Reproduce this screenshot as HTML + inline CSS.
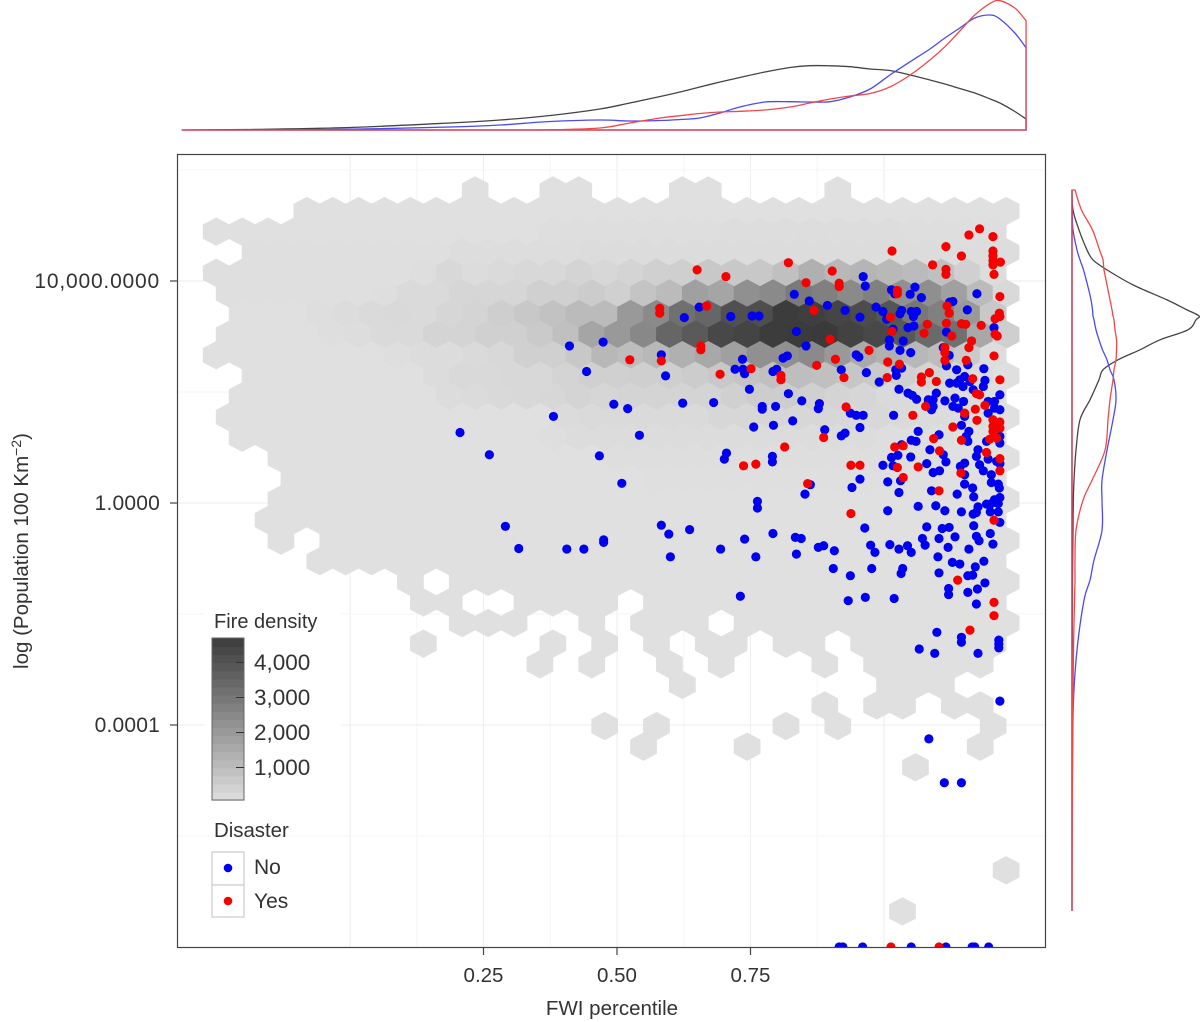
<!DOCTYPE html>
<html lang="en">
<head>
<meta charset="utf-8">
<title>FWI percentile vs population density</title>
<style>
html,body{margin:0;padding:0;background:#fff;}
svg{display:block;}
text{font-family:"Liberation Sans",sans-serif;fill:#333;}
</style>
</head>
<body>
<svg id="chart" xmlns="http://www.w3.org/2000/svg" width="1200" height="1022" viewBox="0 0 1200 1022">
  <defs><clipPath id="panel-clip"><rect x="178" y="154" width="868" height="793"/></clipPath></defs>
  <rect x="178" y="154" width="868" height="793" fill="#ffffff"/>
  <g id="grid"></g>
  <g id="hexes"></g>
  <rect x="204" y="604" width="137" height="216" fill="#ffffff"/>
  <g id="points" clip-path="url(#panel-clip)"></g>
  <rect x="177.5" y="154.5" width="868" height="793" fill="none" stroke="#444" stroke-width="1.2"/>
  <g id="axes"></g>
  <text x="612" y="1015" font-size="20.5" text-anchor="middle">FWI percentile</text>
  <text transform="translate(28,551) rotate(-90)" font-size="20.5" text-anchor="middle">log (Population 100 Km<tspan font-size="14" dy="-7">−2</tspan><tspan dy="7">)</tspan></text>
  <g id="margin-top"></g>
  <g id="margin-right"></g>
  <g id="legend">
    <text x="214" y="628" font-size="20">Fire density</text>
    <g id="colorbar"></g>
    <text x="214" y="837" font-size="20.4">Disaster</text>
    <rect x="212" y="852" width="32" height="33" fill="#fff" stroke="#ccc" stroke-width="1.2"/>
    <rect x="212" y="885" width="32" height="32" fill="#fff" stroke="#ccc" stroke-width="1.2"/>
    <circle cx="228" cy="868" r="4.3" fill="#0000f0"/>
    <circle cx="228" cy="901" r="4.3" fill="#f60000"/>
    <text x="254" y="874" font-size="21">No</text>
    <text x="254" y="908" font-size="21">Yes</text>
  </g>
</svg>
<script>
// ---- Axis data ----
const xTickValues = [0.25, 0.50, 0.75];
const xTickLabels = ["0.25", "0.50", "0.75"];
const xMajorGrid = [0, 0.25, 0.5, 0.75, 1];
const xMinorGrid = [0.125, 0.375, 0.625, 0.875];
const yTickValues = [4, 0, -4];
const yTickLabels = ["10,000.0000", "1.0000", "0.0001"];
const yMajorGrid = [4, 0, -4];
const yMinorGrid = [6, 2, -2, -6];
const colorbarTicks = [4000, 3000, 2000, 1000];
const colorbarTickLabels = ["4,000", "3,000", "2,000", "1,000"];

// ---- Hexbin fire counts: one row per hex row (top to bottom), one value per column; 0 = empty ----
const hexCounts = [
[0,0,0,0,0,0,0,0,0,0,1,0,0,1,1,0,0,0,1,1,0,0,0,0,1,0,0,0,0,0,0],
[0,0,0,1,1,1,1,1,1,1,1,1,1,1,1,1,1,1,1,1,1,1,1,1,1,1,1,1,1,1,1],
[1,1,1,1,1,1,1,1,1,1,1,1,1,57,57,57,57,57,57,57,85,85,85,85,85,85,85,57,57,57,57],
[0,30,30,30,30,30,30,30,30,85,85,85,85,85,114,114,114,114,114,114,114,114,114,114,114,114,114,114,85,85,85],
[30,30,30,30,30,30,30,30,57,230,114,170,230,230,342,257,342,456,485,684,684,684,912,1368,1140,1225,1140,1055,912,456,85],
[30,30,30,30,30,30,57,170,170,285,285,285,456,456,570,456,800,1055,1824,1680,2280,2450,2907,2736,2450,2736,2280,2300,1824,1055,200],
[0,1,1,1,57,114,170,200,170,285,342,513,684,860,1055,1055,2023,2450,3192,3477,4104,4160,4674,4590,4418,4218,3960,2990,2736,2023,684],
[1,1,1,1,57,85,170,170,342,342,456,456,627,912,1680,2023,2508,3477,3819,4332,4446,4674,4700,4730,4503,4332,3876,3363,3192,1596,485],
[1,1,1,1,1,1,1,57,114,114,170,230,456,456,684,1140,1000,1140,1368,1596,1824,2280,2280,2450,2023,1540,1368,1140,1000,627,85],
[0,1,1,1,1,1,1,1,114,200,200,230,230,342,456,456,485,485,570,684,800,912,970,912,740,627,456,342,285,142,30],
[0,1,1,1,1,1,1,1,1,114,142,200,230,257,342,285,342,342,342,342,456,540,540,456,342,285,170,170,170,114,30],
[1,1,1,1,1,1,1,1,1,1,1,1,1,142,170,170,170,170,170,257,257,285,257,257,230,230,170,142,114,85,1],
[0,1,1,1,1,1,1,1,1,1,1,1,1,57,114,114,114,114,114,114,114,114,114,114,114,114,57,57,57,1,1],
[0,0,1,1,1,1,1,1,1,1,1,1,1,1,1,57,57,57,57,57,57,57,57,57,57,57,57,57,1,1,1],
[0,0,0,1,1,1,1,1,1,1,1,1,1,1,1,1,1,30,30,30,30,30,30,30,30,30,30,1,1,1,1],
[0,0,1,1,1,1,1,1,1,1,1,1,1,1,1,1,1,1,1,1,1,1,1,1,1,1,1,1,1,1,1],
[0,0,1,1,1,1,1,1,1,1,1,1,1,1,1,1,1,1,1,1,1,1,1,1,1,1,1,1,1,1,1],
[0,0,1,0,1,1,1,1,1,1,1,1,1,1,1,1,1,1,1,1,1,1,1,1,1,1,1,1,1,1,1],
[0,0,0,0,1,1,1,1,1,1,1,1,1,1,1,1,1,1,1,1,1,1,1,1,1,1,1,1,1,1,1],
[0,0,0,0,0,0,0,1,0,1,1,1,1,1,1,1,1,1,1,1,1,1,1,1,1,1,1,1,1,1,1],
[0,0,0,0,0,0,0,0,1,1,0,0,1,1,1,1,0,1,1,1,1,1,1,1,1,1,1,1,1,1,1],
[0,0,0,0,0,0,0,0,0,1,1,1,0,0,1,0,1,1,1,0,1,1,1,1,1,1,1,1,1,1,1],
[0,0,0,0,0,0,0,0,1,0,0,0,0,1,0,1,0,1,0,1,1,0,1,1,0,1,1,1,1,1,1],
[0,0,0,0,0,0,0,0,0,0,0,0,1,0,1,0,0,1,0,1,0,0,0,1,0,1,1,1,1,1,0],
[0,0,0,0,0,0,0,0,0,0,0,0,0,0,0,0,0,0,1,0,0,0,0,0,0,0,1,1,1,0,0],
[0,0,0,0,0,0,0,0,0,0,0,0,0,0,0,0,0,0,0,0,0,0,0,1,0,1,1,0,1,1,0],
[0,0,0,0,0,0,0,0,0,0,0,0,0,0,0,1,0,1,0,0,0,0,1,0,1,0,0,0,0,0,1],
[0,0,0,0,0,0,0,0,0,0,0,0,0,0,0,0,1,0,0,0,1,0,0,0,0,0,0,0,0,1,0],
[0,0,0,0,0,0,0,0,0,0,0,0,0,0,0,0,0,0,0,0,0,0,0,0,0,0,0,1,0,0,0],
[],
[],
[],
[],
[0,0,0,0,0,0,0,0,0,0,0,0,0,0,0,0,0,0,0,0,0,0,0,0,0,0,0,0,0,0,1],
[],
[0,0,0,0,0,0,0,0,0,0,0,0,0,0,0,0,0,0,0,0,0,0,0,0,0,0,1,0,0,0,0]
];

// ---- Scatter points: [FWI percentile, log10 population] ----
const noDisasterPoints = [
[.961,4.08],[.965,3.91],[.832,3.76],[1.014,3.84],[1.020,3.77],[1.058,3.89],[1.049,3.76],[1.070,3.70],[1.174,3.77],[1.123,3.62],[1.129,3.63],[.860,3.64],[.894,3.56],[.654,3.53],[.985,3.53],[.927,3.47],[.998,3.45],[1.156,3.48],[1.033,3.47],[1.030,3.41],[1.051,3.45],[1.061,3.45],[1.055,3.36],[.626,3.34],[.713,3.36],[.753,3.37],[.766,3.37],[.955,3.35],[1.005,3.31],[1.017,3.13],[1.045,3.16],[1.056,3.19],[1.206,3.16],[.836,3.09],[1.117,3.08],[1.010,2.94],[1.036,2.92],[.854,2.83],[1.010,2.83],[1.030,2.75],[1.050,2.71],[1.111,2.80],[1.122,2.66],[.583,2.67],[.819,2.65],[.811,2.61],[.948,2.67],[.953,2.63],[.735,2.59],[.721,2.41],[.736,2.41],[.739,2.33],[.792,2.37],[.799,2.41],[1.117,2.47],[1.157,2.49],[1.136,2.40],[1.187,2.42],[.920,2.40],[.967,2.35],[1.033,2.43],[1.022,2.40],[1.023,2.30],[.591,2.29],[.991,2.18],[1.189,2.21],[1.186,2.10],[1.123,2.16],[1.136,2.16],[1.142,2.22],[1.151,2.28],[1.148,2.10],[1.161,2.19],[.748,2.05],[1.028,2.05],[.821,1.97],[1.045,1.98],[1.053,1.94],[1.061,1.87],[1.098,1.98],[1.167,2.04],[1.114,1.84],[1.083,1.86],[1.092,1.86],[1.133,1.89],[1.149,1.83],[1.129,1.74],[1.139,1.71],[1.083,1.80],[1.092,1.74],[1.089,1.68],[1.195,1.83],[1.207,1.83],[1.217,1.95],[.846,1.84],[.494,1.78],[.520,1.70],[.623,1.80],[.681,1.81],[.772,1.74],[.772,1.69],[.797,1.74],[.879,1.79],[.877,1.70],[.937,1.62],[.948,1.58],[.961,1.58],[1.018,1.58],[1.195,1.62],[1.217,1.68],[1.207,1.71],[1.151,1.56],[1.145,1.40],[.829,1.48],[.756,1.37],[.793,1.40],[.889,1.32],[.955,1.36],[.927,1.26],[.920,1.21],[1.064,1.29],[1.103,1.23],[1.159,1.29],[1.154,1.20],[1.157,1.11],[.542,1.22],[1.051,1.13],[1.060,1.11],[1.217,1.20],[1.217,1.08],[1.192,1.11],[1.086,.96],[1.176,.96],[1.033,1.05],[.705,.90],[.701,.79],[.791,.84],[.791,.74],[1.050,.83],[1.026,.86],[1.014,.82],[1.111,.87],[1.116,.74],[1.080,.71],[1.151,.72],[1.143,.66],[1.173,.84],[1.179,.69],[1.195,.79],[1.211,.75],[1.217,.71],[.998,.68],[1.017,.67],
[.509,.355],[.862,.33],[.852,.16],[.955,.43],[.940,.28],[1.007,.38],[1.031,.40],[1.028,.19],[1.092,.55],[1.104,.58],[1.151,.51],[1.186,.58],[1.201,.51],[1.201,.37],[1.214,.34],[1.216,.27],[1.151,.34],[1.166,.27],[1.168,.11],[1.089,.22],[1.137,.16],[1.217,.10],[1.207,.06],[1.192,-.02],[1.176,-.07],[1.201,-.01],[1.214,-.01],[1.173,-.17],[1.167,-.20],[1.199,-.16],[1.214,-.16],[.763,.03],[.763,-.09],[1.007,-.14],[1.064,-.06],[1.097,-.05],[1.114,-.14],[1.145,-.16],[1.217,-.35],[.583,-.40],[.597,-.56],[.636,-.48],[.792,-.55],[.739,-.65],[.964,-.45],[1.080,-.43],[1.109,-.46],[1.122,-.44],[1.168,-.41],[1.199,-.55],[1.173,-.60],[1.178,-.68],[1.204,-.74],[1.072,-.64],[1.103,-.64],[1.133,-.61],[.834,-.62],[.845,-.64],[.887,-.77],[.877,-.80],[.907,-.86],[.975,-.76],[1.011,-.75],[1.044,-.77],[1.077,-.76],[1.120,-.80],[1.159,-.83],[1.028,-.83],[1.051,-.89],[.983,-.89],[.694,-.83],[.600,-.97],[.760,-.97],[.836,-.92],[1.101,-.97],[1.128,-1.07],[1.142,-1.10],[1.187,-1.05],[1.171,-1.15],[.905,-1.18],[.977,-1.18],[1.035,-1.18],[1.032,-1.27],[1.103,-1.26],[1.157,-1.31],[1.166,-1.30],[.937,-1.31],[1.189,-1.44],[1.121,-1.54],[1.121,-1.65],[1.157,-1.61],[1.175,-1.55],[.731,-1.68],[.933,-1.76],[.965,-1.70],[1.019,-1.72],[1.173,-1.82],[1.099,-2.33],[1.145,-2.42],[1.145,-2.51],[1.215,-2.47],[1.215,-2.54],[1.215,-2.61],[1.066,-2.63],[1.095,-2.71],[1.176,-2.71],[1.217,-3.57],[1.084,-4.25],
[.206,1.27],[.261,.87],[.411,2.83],[.474,2.90],[.443,2.37],[.381,1.56],[.467,.85],[.291,-.42],[.316,-.82],[.406,-.83],[.438,-.83],[.475,-.665],[.475,-.71],
[.916,-8],[.923,-8],[.960,-8],[1.051,-8],[1.116,-8],[1.165,-8],[1.170,-8],[1.196,-8],[1.113,-5.04],[1.145,-5.04]
];
const yesDisasterPoints = [
[.650,4.20],[.704,4.08],[.821,4.33],[.903,4.18],[.854,3.97],[.916,3.96],[.916,3.90],[1.015,4.54],[1.116,4.62],[1.159,4.83],[1.179,4.94],[1.204,4.80],[1.204,4.54],[1.204,4.45],[1.204,4.37],[1.218,4.34],[1.204,4.29],[1.145,4.45],[1.091,4.29],[1.116,4.21],[1.116,4.12],[1.206,4.12],[1.025,3.83],[1.025,3.77],[1.217,3.72],[.668,3.55],[.580,3.51],[.580,3.42],[.869,3.47],[1.012,3.35],[1.118,3.55],[1.122,3.42],[1.216,3.42],[1.208,3.32],[1.217,3.36],[1.117,3.24],[1.081,3.22],[1.145,3.23],[1.153,3.22],[1.182,3.20],[1.075,3.06],[1.127,3.01],[1.208,3.04],[1.212,3.01],[.899,2.95],[1.015,3.09],[.657,2.83],[.657,2.76],[1.164,2.92],[1.159,2.80],[1.114,2.80],[1.114,2.71],[.972,2.75],[.524,2.58],[.583,2.56],[.909,2.59],[1.114,2.57],[1.154,2.57],[1.206,2.65],[1.007,2.54],[1.029,2.50],[.874,2.48],[.751,2.42],[.693,2.32],[.807,2.30],[.807,2.22],[.925,2.26],[1.006,2.26],[1.085,2.35],[1.070,2.27],[1.070,2.18],[1.098,2.19],[1.166,2.24],[1.217,2.22],[1.173,1.97],[1.179,1.95],[1.078,1.74],[1.189,1.76],[1.171,1.69],[.929,1.73],[1.151,1.62],[1.054,1.58],[1.174,1.49],[1.204,1.50],[1.217,1.46],[1.204,1.38],[1.217,1.35],[1.204,1.29],[1.129,1.37],[.887,1.18],[1.093,1.16],[1.145,1.13],[1.198,1.15],[1.211,1.17],[.814,1.01],[1.020,1.01],[1.036,1.03],[1.104,.94],[1.192,.91],[.737,.67],[.760,.70],[.938,.68],[.955,.68],[1.064,.65],[1.217,.80],[1.025,.64],
[.857,.35],[1.144,.54],[1.036,.46],[1.217,.58],[.938,-.19],[1.103,.22],[1.206,-.31],[1.138,-1.39],[1.206,-1.79],[1.206,-2.03],[1.161,-2.29],
[1.013,-8],[1.103,-8]
];

// ---- Top marginal densities ----
const topFwiGrid = [-.315,-.187,0,.187,.281,.375,.468,.524,.581,.618,.655,.693,.730,.777,.824,.861,.899,.936,.974,1.011,1.049,1.086,1.114,1.142,1.170,1.199,1.217,1.245,1.266];
const topDensityAll = [0,.005,.025,.07,.10,.145,.21,.27,.335,.38,.43,.48,.525,.58,.625,.643,.642,.633,.61,.595,.55,.50,.46,.415,.37,.31,.27,.185,.11];
const topDensityNo = [0,0,.008,.03,.05,.085,.10,.09,.095,.105,.12,.17,.23,.28,.283,.28,.283,.33,.41,.55,.683,.81,.92,1.02,1.12,1.15,1.11,.97,.823];
const topDensityYes = [0,0,0,0,0,.002,.02,.07,.12,.143,.165,.18,.187,.20,.23,.27,.31,.34,.365,.43,.55,.70,.833,.99,1.15,1.267,1.293,1.22,1.093];

// ---- Right marginal densities ----
const rightLogGrid = [5.64,5.28,4.92,4.56,4.38,4.20,3.93,3.66,3.48,3.37,3.30,3.12,2.94,2.76,2.58,2.40,2.22,1.86,1.50,.95,.41,.05,-.49,-1.03,-1.39,-1.75,-2.65,-3.55,-4.63,-5.89,-7.35];
const rightDensityAll = [0,.01,.07,.15,.21,.35,.61,.95,1.15,1.27,1.24,1.16,.88,.68,.46,.31,.27,.18,.08,.04,.02,.013,.01,.007,.005,.004,.003,.002,.001,0,0];
const rightDensityNo = [0,.002,.01,.05,.08,.115,.155,.19,.205,.21,.22,.24,.27,.305,.35,.38,.42,.44,.41,.35,.30,.30,.30,.22,.18,.12,.05,.015,.005,.001,0];
const rightDensityYes = [.03,.095,.205,.275,.31,.32,.35,.38,.40,.41,.42,.43,.445,.445,.44,.42,.41,.38,.36,.33,.20,.11,.04,.03,.03,.025,.015,.01,.005,.002,0];

// ---- Scales ----
const SVGNS = "http://www.w3.org/2000/svg";
function xScale(v) { return 350 + 534 * v; }
function yScale(v) { return 503 - 55.5 * v; }
function topScale(d) { return 130 - 100 * d; }
function rightScale(d) { return 1072 + 100 * d; }
function grayFor(count) {
  const g = Math.round(224 - 165 * count / 4700);
  return "rgb(" + g + "," + g + "," + g + ")";
}
function colorbarY(count) { return 802.5 - 0.035 * count; }
function make(tag, parent, attrs) {
  const el = document.createElementNS(SVGNS, tag);
  for (const k in attrs) el.setAttribute(k, attrs[k]);
  parent.appendChild(el);
  return el;
}
function smoothPath(pts) {
  let d = "M" + pts[0][0].toFixed(2) + "," + pts[0][1].toFixed(2);
  for (let i = 0; i < pts.length - 1; i++) {
    const p0 = pts[Math.max(0, i - 1)], p1 = pts[i], p2 = pts[i + 1], p3 = pts[Math.min(pts.length - 1, i + 2)];
    const c1x = p1[0] + (p2[0] - p0[0]) / 6, c1y = p1[1] + (p2[1] - p0[1]) / 6;
    const c2x = p2[0] - (p3[0] - p1[0]) / 6, c2y = p2[1] - (p3[1] - p1[1]) / 6;
    d += "C" + c1x.toFixed(2) + "," + c1y.toFixed(2) + " " + c2x.toFixed(2) + "," + c2y.toFixed(2) + " " + p2[0].toFixed(2) + "," + p2[1].toFixed(2);
  }
  return d;
}

// ---- Grid ----
const gridG = document.getElementById("grid");
xMinorGrid.forEach(function (v) {
  const l = make("line", gridG, { x1: xScale(v), x2: xScale(v), y1: 154, y2: 947, stroke: "#f6f6f6", "stroke-width": 1 });
  
  
});
xMajorGrid.forEach(function (v) {
  const l = make("line", gridG, { x1: xScale(v), x2: xScale(v), y1: 154, y2: 947, stroke: "#eeeeee", "stroke-width": 1 });
  
  
});
yMinorGrid.forEach(function (v) {
  const l = make("line", gridG, { x1: 178, x2: 1046, y1: yScale(v), y2: yScale(v), stroke: "#f6f6f6", "stroke-width": 1 });
  
  
});
yMajorGrid.forEach(function (v) {
  const l = make("line", gridG, { x1: 178, x2: 1046, y1: yScale(v), y2: yScale(v), stroke: "#eeeeee", "stroke-width": 1 });
  
  
});

// ---- Hexbins ----
const hexG = document.getElementById("hexes");
const hexTopLog = 5.632, hexRowStep = 0.3712, hexFwiStart = -0.25056, hexFwiStep = 0.0485;
const hexHalfW = 12.95, hexHalfH = 13.73;
hexCounts.forEach(function (row, r) {
  row.forEach(function (count, c) {
    if (!count) return;
    const fwi = hexFwiStart + (c + (r % 2 ? 0.5 : 0)) * hexFwiStep;
    const cx = xScale(fwi), cy = yScale(hexTopLog - r * hexRowStep);
    const pts = [[0, -hexHalfH], [hexHalfW, -hexHalfH / 2], [hexHalfW, hexHalfH / 2], [0, hexHalfH], [-hexHalfW, hexHalfH / 2], [-hexHalfW, -hexHalfH / 2]]
      .map(function (p) { return (cx + p[0]).toFixed(2) + "," + (cy + p[1]).toFixed(2); }).join(" ");
    const fill = grayFor(count);
    const hex = make("polygon", hexG, { points: pts, fill: fill, stroke: fill, "stroke-width": 0.8 });
    
    
  });
});

// ---- Scatter ----
const pointG = document.getElementById("points");
noDisasterPoints.forEach(function (p) {
  const dot = make("circle", pointG, { cx: xScale(p[0]), cy: yScale(p[1]), r: 4.6, fill: "#0000f0" });
  
  
});
yesDisasterPoints.forEach(function (p) {
  const dot = make("circle", pointG, { cx: xScale(p[0]), cy: yScale(p[1]), r: 4.6, fill: "#f60000" });
  
  
});

// ---- Axes ----
const axesG = document.getElementById("axes");
xTickValues.forEach(function (v, i) {
  const t = make("line", axesG, { x1: xScale(v), x2: xScale(v), y1: 947, y2: 955, stroke: "#444", "stroke-width": 1.2 });
  
  
  const lab = make("text", axesG, { x: xScale(v), y: 982, "font-size": 20.5, "text-anchor": "middle" });
  
  
  lab.textContent = xTickLabels[i];
});
yTickValues.forEach(function (v, i) {
  const t = make("line", axesG, { x1: 170, x2: 178, y1: yScale(v), y2: yScale(v), stroke: "#444", "stroke-width": 1.2 });
  
  
  const lab = make("text", axesG, { x: 160, y: yScale(v) + 7, "font-size": 21, "text-anchor": "end", "letter-spacing": i === 0 ? 0.8 : 0.2 });
  
  
  lab.textContent = yTickLabels[i];
});

// ---- Top marginal ----
const topG = document.getElementById("margin-top");
[[topDensityAll, "#444444", "density-all-fires"], [topDensityNo, "#4a4af0", "density-no-disaster"], [topDensityYes, "#f04848", "density-yes-disaster"]].forEach(function (s) {
  const pts = topFwiGrid.map(function (v, i) { return [xScale(v), topScale(s[0][i])]; });
  const last = pts[pts.length - 1], first = pts[0];
  const path = make("path", topG, { d: smoothPath(pts) + "L" + last[0].toFixed(2) + ",130L" + first[0].toFixed(2) + ",130Z", fill: "none", stroke: s[1], "stroke-width": 1.3 });
  
  
});

// ---- Right marginal ----
const rightG = document.getElementById("margin-right");
[[rightDensityAll, "#444444", "density-all-fires"], [rightDensityNo, "#4a4af0", "density-no-disaster"], [rightDensityYes, "#f04848", "density-yes-disaster"]].forEach(function (s) {
  const pts = rightLogGrid.map(function (v, i) { return [rightScale(s[0][i]), yScale(v)]; });
  const last = pts[pts.length - 1], first = pts[0];
  const path = make("path", rightG, { d: smoothPath(pts) + "L1072," + last[1].toFixed(2) + "L1072," + first[1].toFixed(2) + "Z", fill: "none", stroke: s[1], "stroke-width": 1.3 });
  
  
});

// ---- Colorbar ----
const barG = document.getElementById("colorbar");
for (let k = 0; k < 20; k++) {
  const low = 60 + k * 231.3, high = low + 231.3;
  const band = make("rect", barG, { x: 212, y: colorbarY(high), width: 32, height: colorbarY(low) - colorbarY(high) + 0.4, fill: grayFor((low + high) / 2) });
  
  
}
const barFrame = make("rect", barG, { x: 212, y: 638, width: 32, height: 162, fill: "none", stroke: "#666", "stroke-width": 1 });


colorbarTicks.forEach(function (v, i) {
  const t = make("line", barG, { x1: 236, x2: 244, y1: colorbarY(v), y2: colorbarY(v), stroke: "#333", "stroke-width": 1 });
  
  
  const lab = make("text", barG, { x: 254, y: colorbarY(v) + 7.5, "font-size": 22.5 });
  
  
  lab.textContent = colorbarTickLabels[i];
});
</script>
</body>
</html>
